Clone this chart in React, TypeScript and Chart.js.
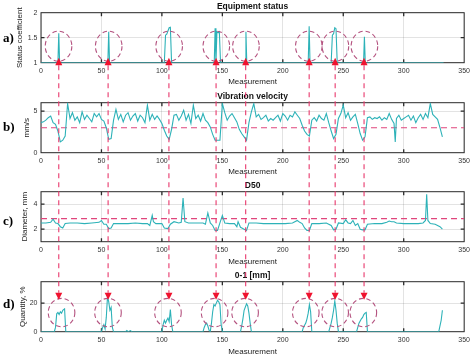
import React, { useEffect, useRef } from 'react';
import { Chart, registerables } from 'chart.js';

Chart.register(...registerables);

// ---------------- data ----------------
const xTicks = [0, 50, 100, 150, 200, 250, 300, 350];

// a) Equipment status
const statusX = [0, 14, 14.7, 15.4, 55.3, 56, 56.7, 102, 103, 104, 106, 107, 108, 143.3, 144, 144.7, 145.5, 146.5, 147.5, 148.5, 168.8, 169.5, 170.2, 221, 221.8, 222.5, 240, 241, 242, 243, 244, 245, 266.8, 267.5, 268.2, 333];
const statusY = [1, 1, 1.59, 1, 1, 1.62, 1, 1, 1.55, 1.57, 1.7, 1.71, 1, 1, 1.69, 1, 1.62, 1.6, 1.62, 1, 1, 1.62, 1, 1, 1.73, 1, 1, 1.55, 1.58, 1.7, 1.68, 1, 1, 1.52, 1, 1];
const statusTicks = [1, 1.5, 2];

// b) Vibration velocity
const vibX = [0, 2, 4, 6, 8, 10, 12, 14, 16, 18,
  20, 22, 24, 26, 28, 30, 32, 34, 36, 38,
  40, 42, 44, 46, 48, 50, 52, 54, 56, 58,
  60, 62, 64, 66, 68, 70, 72, 74, 76, 78,
  80, 82, 84, 86, 88, 90, 92, 94, 96, 98,
  100, 102, 104, 106, 108, 110, 112, 114, 116, 118,
  120, 122, 124, 126, 128, 130, 132, 134, 136, 138,
  140, 142, 144, 146, 148, 150, 152, 154, 156, 158,
  160, 162, 164, 166, 168, 170, 172, 174, 176, 178,
  180, 182, 184, 186, 188, 190, 192, 194, 196, 198,
  200, 202, 204, 206, 208, 210, 212, 214, 216, 218,
  220, 222, 224, 226, 228, 230, 232, 234, 236, 238,
  240, 242, 244, 246, 248, 250, 252, 254, 256, 258,
  260, 262, 264, 266, 268, 270, 272, 274, 276, 278,
  280, 282, 284, 286, 288, 290, 292, 293,
  294, 296, 298, 300, 302, 304, 306, 308, 310, 312,
  314, 316, 318, 320, 322, 324, 326, 328, 330, 332];
const vibY = [3.6, 3.7, 3.9, 4.2, 4.4, 3.6, 3.4, 2.6, 1.3, 1.5,
  2.0, 5.9, 4.1, 4.8, 3.9, 4.3, 3.6, 4.9, 4.0, 4.5,
  4.1, 3.7, 4.7, 4.3, 4.7, 4.0, 3.8, 3.0, 1.6, 1.7,
  3.9, 5.2, 4.0, 4.6, 3.7, 4.5, 4.8, 3.9, 4.4, 4.7,
  3.8, 4.5, 4.2, 3.6, 5.7, 3.9, 4.6, 4.0, 4.4, 4.0,
  3.5, 2.7, 2.0, 1.6, 2.8, 4.5, 4.6, 3.9, 4.4, 5.1,
  3.9, 4.6, 3.5, 5.7, 4.1, 4.5, 3.8, 4.7, 3.9, 3.6,
  3.1, 2.2, 1.5, 1.5, 1.5, 5.9, 4.8, 3.9, 4.4, 4.7,
  4.2, 3.7, 2.8, 2.3, 1.9, 1.5, 3.6, 4.9, 5.9, 4.3,
  4.6, 4.0, 4.2, 4.5, 3.8, 4.1, 3.9, 4.2, 4.5, 3.8,
  4.7, 4.4, 3.9, 4.5, 4.3, 4.9, 4.5, 4.1, 3.3, 2.6,
  2.2, 2.0, 3.9, 4.2, 3.8, 4.5, 4.1, 3.9, 4.7, 3.6,
  2.6, 1.7, 2.2, 4.1, 4.7, 5.7, 4.2, 4.8, 3.9, 4.3,
  4.6, 3.5, 2.3, 1.5, 1.9, 4.2, 4.3, 4.0, 4.2, 4.1,
  4.3, 3.9, 4.2, 4.0, 4.7, 4.0, 3.5, 1.3,
  4.1, 4.5, 3.9, 4.1, 4.3, 4.5, 3.9, 4.4, 3.6, 4.2,
  4.6, 4.0, 4.7, 4.2, 5.9, 4.6, 4.3, 4.0, 3.0, 1.9];
const vibTicks = [0, 5];
const vibLimit = 3;

// c) D50
const d50X = [0, 4, 8, 10, 12, 14, 16, 18, 20, 24, 30, 36, 42, 48, 50, 52, 54, 56, 58, 60,
  66, 72, 78, 84, 88, 90, 92, 93, 95, 100, 102, 105, 107, 110, 114, 116, 117.5, 119, 122, 128,
  134, 136, 138, 140, 142, 144, 146, 148, 150, 152, 156, 160, 162, 163, 165, 168, 170, 172, 178, 184,
  190, 196, 202, 208, 212, 214, 216, 218, 220, 222, 224, 230, 236, 240, 242, 244, 246, 250, 252, 254,
  256, 258, 260, 262, 264, 266, 268, 270, 276, 282, 286, 288, 290, 292, 294, 300, 306, 312, 316, 318,
  319, 320, 322, 326, 330, 332];
const d50Y = [2.5, 2.5, 2.55, 2.8, 2.5, 2.45, 2.2, 2.1, 2.45, 2.5, 2.5, 2.45, 2.5, 2.55, 2.7, 2.4, 2.4, 2.05, 2.1, 2.45,
  2.45, 2.45, 2.5, 2.45, 2.45, 2.3, 3.1, 2.6, 2.45, 2.45, 2.1, 2.05, 2.4, 2.6, 2.5, 2.55, 4.5, 2.6, 2.5, 2.5,
  2.5, 2.4, 3.3, 2.5, 2.3, 1.9, 1.9, 2.5, 3.1, 2.5, 2.45, 2.45, 2.2, 2.6, 2.15, 2.0, 1.9, 2.5, 2.5, 2.45,
  2.45, 2.45, 2.45, 2.5, 2.7, 2.55, 2.45, 2.1, 1.9, 1.9, 2.45, 2.45, 2.5, 2.3, 1.95, 2.0, 2.5, 2.45, 2.75, 2.5,
  2.45, 2.7, 2.3, 2.45, 2.0, 1.95, 1.95, 2.4, 2.45, 2.45, 2.55, 2.65, 2.6, 2.6, 2.5, 2.45, 2.45, 2.45, 2.5, 2.7,
  4.8, 2.7, 2.45, 2.4, 2.2, 2.0];
const d50Ticks = [2, 4];
const d50Limit = 2.85;

// d) 0-1 [mm]
const qtyX = [0, 11, 12, 13, 14, 15, 16, 17, 18, 19.5, 20.5,
  50, 51, 52, 53, 54, 55, 56, 57, 58, 59, 60,
  70, 71, 72, 74, 75,
  100, 101, 102, 103, 104, 105, 106, 107, 108, 109,
  134, 135, 136, 137, 138, 139, 140, 141, 142, 143, 144, 145, 146, 147, 148, 149, 150,
  165, 166, 167, 168, 170, 171, 172, 173, 174,
  216, 217, 219, 220, 221, 222, 223, 224,
  238, 239, 240, 241, 242, 243, 244, 245, 246,
  261, 262, 263, 265, 266, 267, 268, 269, 270,
  329, 330, 331, 332];
const qtyY = [0, 0, 3, 12.5, 13.5, 12, 14, 13, 15, 16, 0,
  0, 3, 5, 2, 10, 24.5, 21, 15, 17, 3, 0,
  0, 0.8, 0, 0.8, 0,
  0, 5, 8, 6, 8, 9.5, 7, 15.5, 5, 0,
  0, 3, 5, 6, 4, 1, 0, 6, 14, 19, 18, 20, 22, 21, 19, 5, 0,
  0, 4, 9, 15, 19.5, 18, 13, 6, 0,
  0, 3, 6, 9, 13, 19, 14, 0,
  0, 3, 6, 10, 15, 21.5, 15, 6, 0,
  0, 3, 6, 9, 10, 12, 13, 13.5, 0,
  0, 4, 8, 15];
const qtyTicks = [0, 20];

// annotation markers (measurement numbers)
const arrowX = [14.7, 55.5, 105.8, 144.8, 169.3, 221.8, 243.3, 267.2];
const circlesAX = [14.5, 56, 106, 145, 169.5, 221.5, 243.5, 267.5];
const circlesDX = [17, 55.4, 105, 143.6, 168.8, 219, 243.3, 266.6];
const circleAValue = 1.33;
const circleDValue = 13.4;

// ---------------- styles ----------------
const FONT = '"Liberation Sans", Arial, Helvetica, sans-serif';
const TEAL = '#2db2b8';
const LIMIT = '#e0457c';
const VLINE = '#e8386c';
const CIRCLE = '#b4527f';
const ARROW = '#f0122f';
const GRID = 'rgba(0,0,0,0.11)';

const panelTitlePlugin = {
  id: 'panelTitle',
  afterDraw(chart: any, _a: any, opts: any) {
    const { ctx, chartArea } = chart;
    ctx.save();
    ctx.font = `bold 8.5px ${FONT}`;
    ctx.fillStyle = '#111';
    ctx.textAlign = 'center';
    ctx.textBaseline = 'middle';
    ctx.fillText(opts.text, (chartArea.left + chartArea.right) / 2, opts.y);
    ctx.restore();
  },
};

const boxPlugin = {
  id: 'matlabBox',
  beforeDatasetsDraw(chart: any) {
    const { ctx, chartArea: a, scales } = chart;
    ctx.save();
    ctx.strokeStyle = '#2a2a2a';
    ctx.lineWidth = 1;
    ctx.strokeRect(a.left, a.top, a.right - a.left, a.bottom - a.top);
    ctx.lineWidth = 1.3;
    ctx.beginPath();
    scales.x.ticks.forEach((t: any) => {
      if (t.value <= scales.x.min || t.value >= scales.x.max) return;
      const px = scales.x.getPixelForValue(t.value);
      ctx.moveTo(px, a.bottom);
      ctx.lineTo(px, a.bottom - 3.5);
      ctx.moveTo(px, a.top);
      ctx.lineTo(px, a.top + 3.5);
    });
    scales.y.ticks.forEach((t: any) => {
      if (t.value <= scales.y.min || t.value >= scales.y.max) return;
      const py = scales.y.getPixelForValue(t.value);
      ctx.moveTo(a.left, py);
      ctx.lineTo(a.left + 3.5, py);
      ctx.moveTo(a.right, py);
      ctx.lineTo(a.right - 3.5, py);
    });
    ctx.stroke();
    ctx.restore();
  },
};

type PanelDef = {
  label: string;
  title: string;
  yTitle: string;
  xs: number[];
  ys: number[];
  yMin: number;
  yMax: number;
  yTicks: number[];
  limit?: number;
  top: number;
  yTitlePad: number;
  xTitlePad: number;
  labelY: number;
};

const PANELS: PanelDef[] = [
  { label: 'a)', title: 'Equipment status', yTitle: 'Status coefficient', xs: statusX, ys: statusY, yMin: 1, yMax: 2, yTicks: statusTicks, top: 0, yTitlePad: 15.2, xTitlePad: 3.2, labelY: 38 },
  { label: 'b)', title: 'Vibration velocity', yTitle: 'mm/s', xs: vibX, ys: vibY, yMin: 0, yMax: 6, yTicks: vibTicks, limit: vibLimit, top: 90, yTitlePad: 22, xTitlePad: 3.2, labelY: 127 },
  { label: 'c)', title: 'D50', yTitle: 'Diameter, mm', xs: d50X, ys: d50Y, yMin: 1, yMax: 5, yTicks: d50Ticks, limit: d50Limit, top: 179, yTitlePad: 19.5, xTitlePad: 2.2, labelY: 221 },
  { label: 'd)', title: '0-1 [mm]', yTitle: 'Quantity, %', xs: qtyX, ys: qtyY, yMin: 0, yMax: 35, yTicks: qtyTicks, top: 269, yTitlePad: 18.2, xTitlePad: 2.2, labelY: 304 },
];

function makeConfig(p: PanelDef): any {
  const datasets: any[] = [
    {
      data: p.xs.map((x, i) => ({ x, y: p.ys[i] })),
      borderColor: TEAL,
      borderWidth: 1.1,
      pointRadius: 0,
      tension: 0,
      fill: false,
    },
  ];
  if (p.limit !== undefined) {
    datasets.push({
      data: [{ x: 0, y: p.limit }, { x: 350, y: p.limit }],
      borderColor: LIMIT,
      borderWidth: 1.1,
      borderDash: [6, 4],
      pointRadius: 0,
      fill: false,
    });
  }
  return {
    type: 'line',
    data: { datasets },
    options: {
      responsive: false,
      animation: false,
      events: [],
      layout: { padding: { left: 0, right: 8, top: 12.7, bottom: 0 } },
      plugins: {
        legend: { display: false },
        tooltip: { enabled: false },
        title: { display: false },
        panelTitle: { text: p.title, y: 6.5 },
      },
      scales: {
        x: {
          type: 'linear',
          min: 0,
          max: 350,
          afterBuildTicks: (s: any) => { s.ticks = xTicks.map((v) => ({ value: v })); },
          afterFit: (s: any) => { s.height = 27.3; },
          grid: { color: GRID, drawTicks: false },
          border: { display: false },
          ticks: { padding: 4, font: { family: FONT, size: 7 }, color: '#333', maxRotation: 0, autoSkip: false, callback: (v: any) => String(v) },
          title: { display: true, text: 'Measurement', font: { family: FONT, size: 8 }, color: '#222', padding: { top: 0, bottom: p.xTitlePad } },
        },
        y: {
          type: 'linear',
          min: p.yMin,
          max: p.yMax,
          afterBuildTicks: (s: any) => { s.ticks = p.yTicks.map((v) => ({ value: v })); },
          afterFit: (s: any) => { s.width = 41; },
          grid: { color: GRID, drawTicks: false },
          border: { display: false },
          ticks: { padding: 3.5, font: { family: FONT, size: 7 }, color: '#333', callback: (v: any) => String(v) },
          title: { display: true, text: p.yTitle, font: { family: FONT, size: 8 }, color: '#222', padding: { top: p.yTitlePad, bottom: 0 } },
        },
      },
    },
    plugins: [panelTitlePlugin, boxPlugin],
  };
}

export default function App() {
  const canvasRefs = useRef<(HTMLCanvasElement | null)[]>([]);
  const overlayRef = useRef<HTMLCanvasElement | null>(null);

  useEffect(() => {
    const charts = PANELS.map((p, i) => new Chart(canvasRefs.current[i] as HTMLCanvasElement, makeConfig(p)));

    const ov = overlayRef.current;
    if (ov) {
      const ctx = ov.getContext('2d') as CanvasRenderingContext2D;
      ctx.clearRect(0, 0, ov.width, ov.height);
      const cA: any = charts[0];
      const cD: any = charts[3];
      const topA = PANELS[0].top;
      const topD = PANELS[3].top;
      const rx = 13.3;
      const ryA = 15;
      const ryD = 14.2;
      const aBottom = topA + cA.chartArea.bottom;
      const cyA = topA + cA.scales.y.getPixelForValue(circleAValue);
      const cyD = topD + cD.scales.y.getPixelForValue(circleDValue);
      const dTip = cyD - ryD + 1.5;
      const dBase = dTip - 7;

      // circles
      ctx.save();
      ctx.strokeStyle = CIRCLE;
      ctx.lineWidth = 1.1;
      ctx.setLineDash([4.5, 3]);
      circlesAX.forEach((m) => {
        const px = cA.scales.x.getPixelForValue(m);
        ctx.beginPath();
        ctx.ellipse(px, cyA, rx, ryA, 0, 0, Math.PI * 2);
        ctx.stroke();
      });
      circlesDX.forEach((m) => {
        const px = cD.scales.x.getPixelForValue(m);
        ctx.beginPath();
        ctx.ellipse(px, cyD, rx, ryD, 0, 0, Math.PI * 2);
        ctx.stroke();
      });
      ctx.restore();

      // vertical dashed lines and arrows
      arrowX.forEach((m) => {
        const px = cA.scales.x.getPixelForValue(m);
        ctx.save();
        ctx.strokeStyle = VLINE;
        ctx.lineWidth = 1.1;
        ctx.setLineDash([5, 4]);
        ctx.beginPath();
        ctx.moveTo(px, aBottom + 2.5);
        ctx.lineTo(px, dBase);
        ctx.stroke();
        ctx.restore();

        ctx.save();
        ctx.fillStyle = ARROW;
        // up arrow in panel a
        ctx.beginPath();
        ctx.moveTo(px, aBottom - 5);
        ctx.lineTo(px - 3.5, aBottom + 2.5);
        ctx.lineTo(px + 3.5, aBottom + 2.5);
        ctx.closePath();
        ctx.fill();
        // down arrow in panel d
        ctx.beginPath();
        ctx.moveTo(px, dTip);
        ctx.lineTo(px - 3.5, dBase);
        ctx.lineTo(px + 3.5, dBase);
        ctx.closePath();
        ctx.fill();
        ctx.restore();
      });
    }

    return () => {
      charts.forEach((c) => c.destroy());
    };
  }, []);

  return (
    <div style={{ position: 'absolute', left: 0, top: 0, width: 474, height: 358, background: '#fff', overflow: 'hidden' }}>
      {PANELS.map((p, i) => (
        <canvas
          key={p.label}
          ref={(el) => { canvasRefs.current[i] = el; }}
          width={474}
          height={90}
          style={{ position: 'absolute', left: 0, top: p.top, width: 474, height: 90 }}
        />
      ))}
      {PANELS.map((p) => (
        <div
          key={'lbl' + p.label}
          style={{ position: 'absolute', left: 3, top: p.labelY - 8, lineHeight: '16px', font: 'bold 13px "Liberation Serif", "Times New Roman", serif', color: '#000' }}
        >
          {p.label}
        </div>
      ))}
      <canvas
        ref={overlayRef}
        width={474}
        height={358}
        style={{ position: 'absolute', left: 0, top: 0, width: 474, height: 358, pointerEvents: 'none' }}
      />
    </div>
  );
}
